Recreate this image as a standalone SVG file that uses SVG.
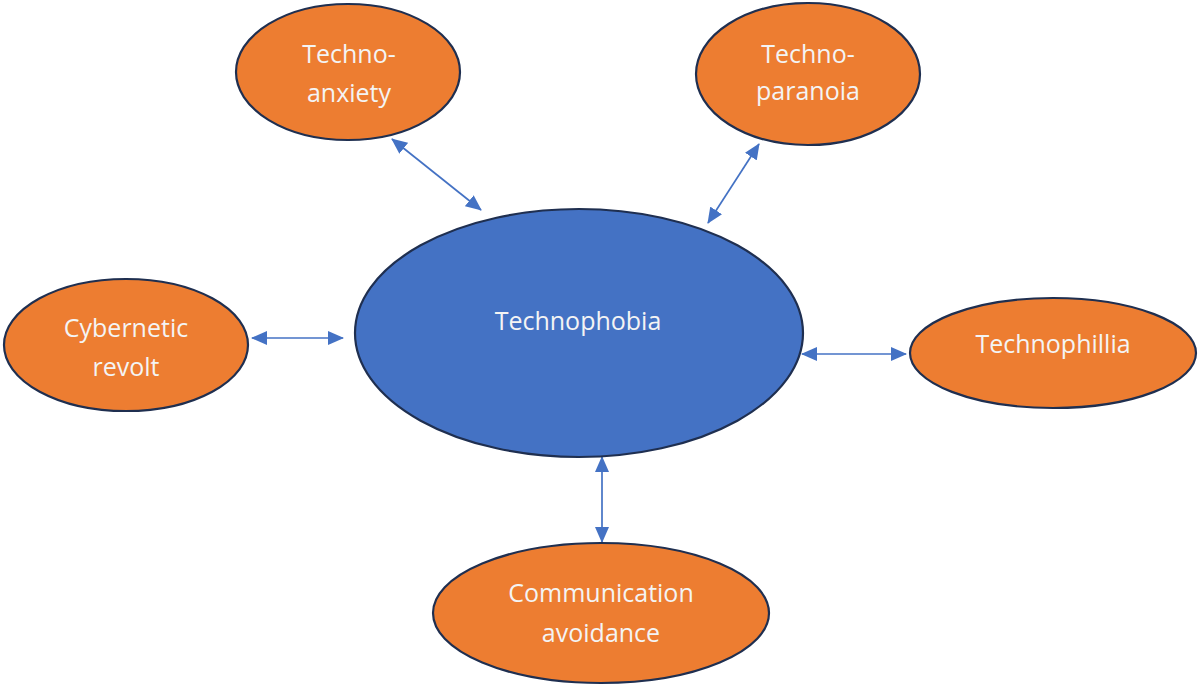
<svg xmlns="http://www.w3.org/2000/svg" width="1200" height="687" viewBox="0 0 1200 687">
<defs>
<marker id="ah" viewBox="0 0 16 14" refX="15" refY="7" markerWidth="16" markerHeight="14" markerUnits="userSpaceOnUse" orient="auto-start-reverse">
<path d="M0,0 L16,7 L0,14 z" fill="#4472C4"/>
</marker>
<style>
.sat{fill:#ED7D31;stroke:#1F2F50;stroke-width:2.2}
.hub{fill:#4472C4;stroke:#1F2F50;stroke-width:2.2}
.lbl{font-family:"Open Sans","Liberation Sans",sans-serif;font-size:25px;fill:#F4F4F4;text-anchor:middle}
.con{stroke:#4472C4;stroke-width:1.7;fill:none;marker-start:url(#ah);marker-end:url(#ah)}
</style>
</defs>
<rect width="1200" height="687" fill="#FFFFFF"/>
<g id="connectors">
<line class="con" x1="392" y1="139" x2="481" y2="210"/>
<line class="con" x1="759" y1="144" x2="708" y2="223"/>
<line class="con" x1="252" y1="338" x2="343" y2="338"/>
<line class="con" x1="802" y1="354" x2="906" y2="354"/>
<line class="con" x1="602" y1="457" x2="602" y2="542"/>
</g>
<g id="technophobia">
<ellipse class="hub" cx="579" cy="333" rx="224" ry="124"/>
<text class="lbl" x="578" y="330">Technophobia</text>
</g>
<g id="techno-anxiety">
<ellipse class="sat" cx="348" cy="72" rx="112" ry="68"/>
<text class="lbl" x="349" y="63">Techno-</text>
<text class="lbl" x="349" y="102">anxiety</text>
</g>
<g id="techno-paranoia">
<ellipse class="sat" cx="808" cy="74" rx="112" ry="71"/>
<text class="lbl" x="808" y="63">Techno-</text>
<text class="lbl" x="808" y="100">paranoia</text>
</g>
<g id="cybernetic-revolt">
<ellipse class="sat" cx="126" cy="345" rx="122" ry="66"/>
<text class="lbl" x="126" y="337">Cybernetic</text>
<text class="lbl" x="126" y="376">revolt</text>
</g>
<g id="technophillia">
<ellipse class="sat" cx="1053" cy="353" rx="143" ry="55"/>
<text class="lbl" x="1053" y="353">Technophillia</text>
</g>
<g id="communication-avoidance">
<ellipse class="sat" cx="601" cy="613" rx="168" ry="70"/>
<text class="lbl" x="601" y="602">Communication</text>
<text class="lbl" x="601" y="642">avoidance</text>
</g>
</svg>
